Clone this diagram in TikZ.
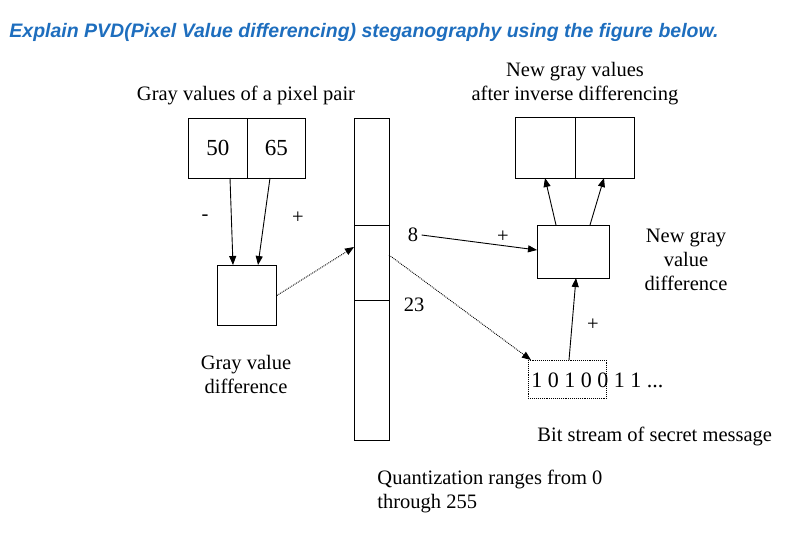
\documentclass[tikz,border=0pt]{standalone}
\usepackage{fontspec}
\setmainfont{Liberation Serif}
\newfontfamily\titlefont{Liberation Sans}
\usetikzlibrary{arrows.meta}
\definecolor{titleblue}{RGB}{30,110,190}
\begin{document}
\begin{tikzpicture}[x=1pt,y=-1pt,line width=0.9pt,
  box/.style={draw,fill=white},
  arr/.style={-{Triangle[length=9pt,width=7pt]}},
  dotarr/.style={-{Triangle[length=9pt,width=7pt]},densely dotted},
  lbl/.style={font=\fontsize{20.5}{24}\selectfont,align=center,inner sep=0pt}]
\useasboundingbox (0,0) rectangle (791,551);
\node[anchor=west,inner sep=0pt,text=titleblue,font=\titlefont\bfseries\itshape\fontsize{19.5}{22}\selectfont] (title) at (9,32) {Explain PVD(Pixel Value differencing) steganography using the figure below.};
\node[lbl] (lpair) at (246,95) {Gray values of a pixel pair};
\node[box,minimum width=59pt,minimum height=60pt,anchor=north west,lbl,font=\fontsize{23}{26}\selectfont] (p1) at (188,118) {50};
\node[box,minimum width=58pt,minimum height=60pt,anchor=north west,lbl,font=\fontsize{23}{26}\selectfont] (p2) at (247,118) {65};
\node[box,minimum width=59pt,minimum height=60pt,anchor=north west] (diff) at (217,265) {};
\coordinate (a1) at (230,178); \coordinate (a2) at (270,178);
\draw[arr] (a1) -- (233,265);
\draw[arr] (a2) -- (258,265);
\node[lbl] (minus) at (205,218) {-};
\node[lbl] (plus1) at (298,218) {+};
\node[lbl] (ldiff) at (246,374) {Gray value\\difference};
\node[box,minimum width=35pt,minimum height=107pt,anchor=north west] (q1) at (354,118) {};
\node[box,minimum width=35pt,minimum height=75pt,anchor=north west] (q2) at (354,225) {};
\node[box,minimum width=35pt,minimum height=140pt,anchor=north west] (q3) at (354,300) {};
\draw[dotarr] (diff.east) -- (354,247);
\node[lbl] (n8) at (413,235) {8};
\node[lbl] (n23) at (414,305) {23};
\node[box,minimum width=72pt,minimum height=53pt,anchor=north west] (nd) at (537,225) {};
\draw[arr] (n8.east) ++(3,0) -- (537,250);
\node[lbl] (plus2) at (503,237) {+};
\node[lbl] (lnd) at (686,260) {New gray\\value\\difference};
\node[box,minimum width=60pt,minimum height=61pt,anchor=north west] (t1) at (515,117) {};
\node[box,minimum width=59pt,minimum height=61pt,anchor=north west] (t2) at (575,117) {};
\draw[arr] (556,225) -- (545,178);
\draw[arr] (590,225) -- (604,178);
\node[lbl] (lnew) at (575,84) {New gray values\\after inverse differencing};
\node[draw,densely dotted,minimum width=78pt,minimum height=38pt,anchor=north west] (bits) at (528,360) {};
\node[anchor=west,inner sep=0pt,font=\fontsize{22}{26}\selectfont] (btxt) at (531,380) {1 0 1 0 0 1 1 ...};
\draw[dotarr] (389,255) -- (531,360);
\draw[arr] (569,360) -- (576,278);
\node[lbl] (plus3) at (593,325) {+};
\node[lbl,anchor=west] (lbits) at (537,436) {Bit stream of secret message};
\node[lbl,anchor=north west,align=left] (lq) at (377,470) {Quantization ranges from 0\\through 255};
\end{tikzpicture}
\end{document}
